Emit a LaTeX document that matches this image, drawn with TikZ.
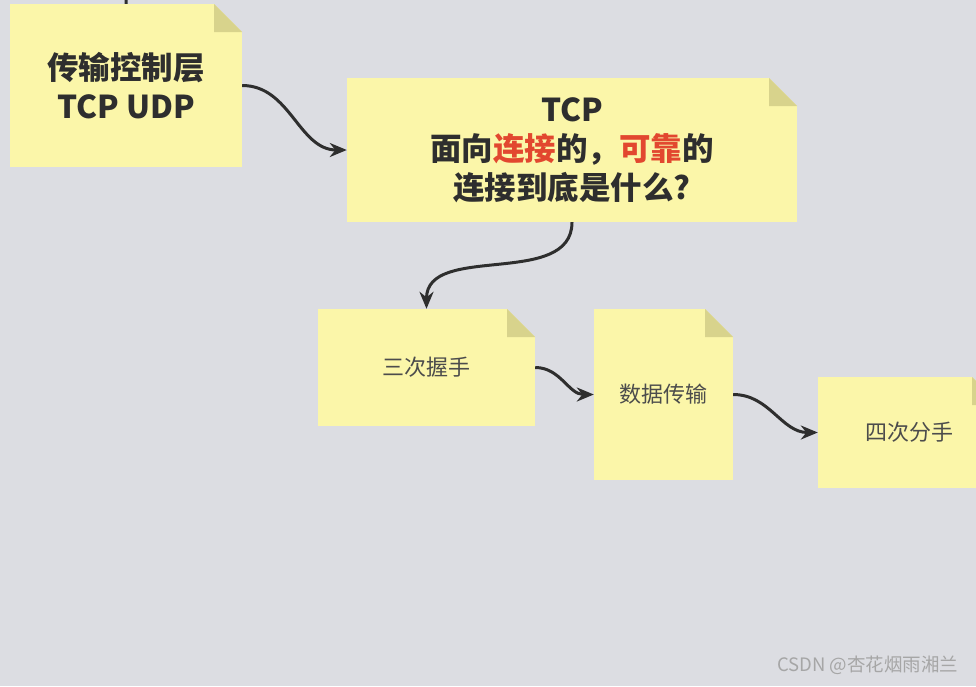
\documentclass[tikz,border=0pt]{standalone}
\usepackage{xcolor}
\usepackage{fontspec}
\usepackage{tikz}
\usetikzlibrary{positioning, arrows.meta}
\newfontfamily\cjk{Noto Sans CJK SC}
\definecolor{bggray}{HTML}{DCDDE2}
\definecolor{noteyellow}{HTML}{FBF6A9}
\definecolor{foldyellow}{HTML}{D8D38C}
\definecolor{keyred}{HTML}{E2472F}
\definecolor{inkgray}{HTML}{2E2E2E}
\tikzstyle{note} = [rectangle, fill = noteyellow, inner sep = 0pt, align = center, font = \cjk,
  path picture = {
    \fill[bggray] ([xshift=-28pt]path picture bounding box.north east) -- (path picture bounding box.north east) -- ([yshift=-28pt]path picture bounding box.north east) -- cycle;
    \fill[foldyellow] ([xshift=-28pt]path picture bounding box.north east) -- ([xshift=-28pt,yshift=-28pt]path picture bounding box.north east) -- ([yshift=-28pt]path picture bounding box.north east) -- cycle;
  }]
\tikzstyle{bignote} = [note, font = \cjk\bfseries\fontsize{31.5}{39}\selectfont, text = inkgray]
\tikzstyle{smallnote} = [note, font = \cjk\fontsize{22}{25}\selectfont, text = black!70]
\tikzstyle{arrow} = [-{Stealth[length=17pt, width=14pt]}, line width = 3pt, draw = inkgray]

\begin{document}
\begin{tikzpicture}[x=1pt, y=-1pt, node distance=100pt]
		\fill[bggray] (0,0) rectangle (976,686);
		\useasboundingbox (0,0) rectangle (976,686);
		\clip (0,0) rectangle (976,686);
		%便签
		\node[bignote, minimum width = 232pt, minimum height = 163pt](layer) at (126,85.5){传输控制层\\TCP UDP};
		\node[bignote, minimum width = 450pt, minimum height = 144pt, right of = layer, xshift = 346pt, yshift = -64.5pt](tcp){TCP\\面向\textcolor{keyred}{连接}的，\textcolor{keyred}{可靠}的\\连接到底是什么?};
		\node[smallnote, minimum width = 217pt, minimum height = 117pt, below of = tcp, xshift = -145.5pt, yshift = -117.5pt](shake){三次握手};
		\node[smallnote, minimum width = 139pt, minimum height = 171pt, right of = shake, xshift = 137pt, yshift = -27pt](data){数据传输};
		\node[smallnote, minimum width = 182pt, minimum height = 111pt, right of = data, xshift = 145.5pt, yshift = -38pt](wave){四次分手};
		\node[font = \cjk\fontsize{18.5}{20}\selectfont, text = gray!70, anchor = east](mark) at (962,665){CSDN @杏花烟雨湘兰};
		\coordinate (above) at (127,-20);
		%连线
		\draw [line width = 3pt, draw = inkgray] (above) -- (layer.north);
		\draw [arrow] (layer.east) to[out=0, in=180] (tcp.west);
		\draw [arrow] (tcp.south) to[out=-90, in=90] (shake.north);
		\draw [arrow] (shake.east) to[out=0, in=180] (data.west);
		\draw [arrow] (data.east) to[out=0, in=180] (wave.west);
	\end{tikzpicture}
\end{document}
